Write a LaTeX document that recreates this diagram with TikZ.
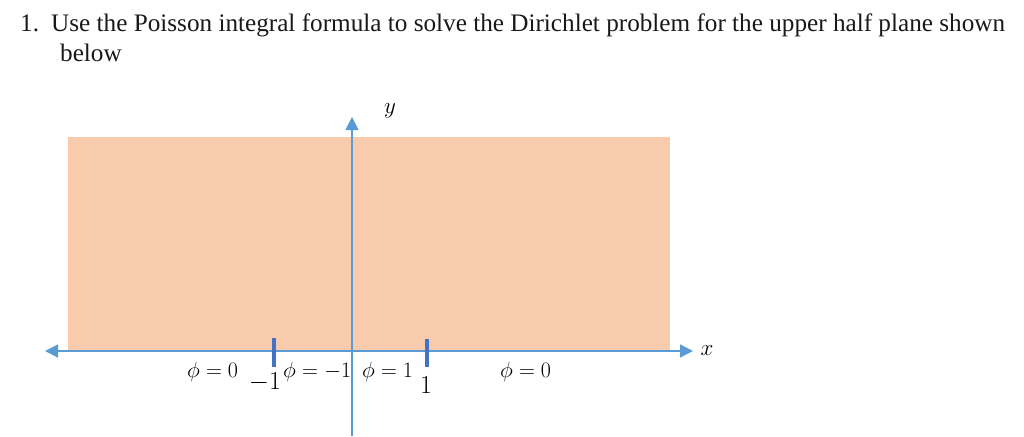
\RequirePackage{fix-cm}
\documentclass[tikz,border=0pt]{standalone}
\usepackage{fontspec}
\setmainfont{Liberation Serif}
\usetikzlibrary{arrows.meta}
\definecolor{peach}{HTML}{F8CBAD}
\definecolor{axisblue}{HTML}{5B9BD5}
\definecolor{tickblue}{HTML}{4472C4}
\begin{document}
\begin{tikzpicture}[x=1pt,y=-1pt,
  titletext/.style={anchor=base west,inner sep=0pt,font=\fontsize{25.2}{30}\selectfont,text=black!90},
  philabel/.style={anchor=base west,inner sep=0pt,font=\fontsize{22}{26}\selectfont},
  ticklabel/.style={anchor=base,inner sep=0pt,font=\fontsize{26}{30}\selectfont},
  axislabel/.style={inner sep=0pt,font=\fontsize{23}{26}\selectfont},
  axisline/.style={draw=axisblue,line width=1.5pt,{Triangle[length=13pt,width=13pt]}-{Triangle[length=13pt,width=13pt]}},
  tickmark/.style={draw=tickblue,line width=4pt}]
\useasboundingbox (0,0) rectangle (1024,436);
% shaded half plane
\fill[peach] (68,137) rectangle (670,351);
% title
\node[titletext] (num) at (20,32) {1.};
\node[titletext] (line1) at (51,32) {Use the Poisson integral formula to solve the Dirichlet problem for the upper half plane shown};
\node[titletext] (line2) at (60,62) {below};
% axes
\coordinate (xl) at (45,351);
\coordinate (xr) at (693,351);
\coordinate (yb) at (352,436);
\coordinate (yt) at (352,117);
\draw[axisline] (xl) -- (xr);
\draw[draw=axisblue,line width=1.5pt,-{Triangle[length=13pt,width=13pt]}] (yb) -- (yt);
\node[axislabel] (xlab) at (707,351) {$x$};
\node[axislabel] (ylab) at (390,111) {$y$};
% ticks
\coordinate (ta1) at (274,338);
\coordinate (ta2) at (274,367);
\coordinate (tb1) at (427,339);
\coordinate (tb2) at (427,367);
\draw[tickmark] (ta1) -- (ta2);
\draw[tickmark] (tb1) -- (tb2);
\node[ticklabel] (m1) at (265,389) {$-1$};
\node[ticklabel] (p1) at (426,393) {$1$};
% boundary values
\node[philabel] (phiA) at (187,377) {$\phi = 0$};
\node[philabel] (phiB) at (283,377) {$\phi = -1$};
\node[philabel] (phiC) at (362,377) {$\phi = 1$};
\node[philabel] (phiD) at (500,377) {$\phi = 0$};
\end{tikzpicture}
\end{document}
